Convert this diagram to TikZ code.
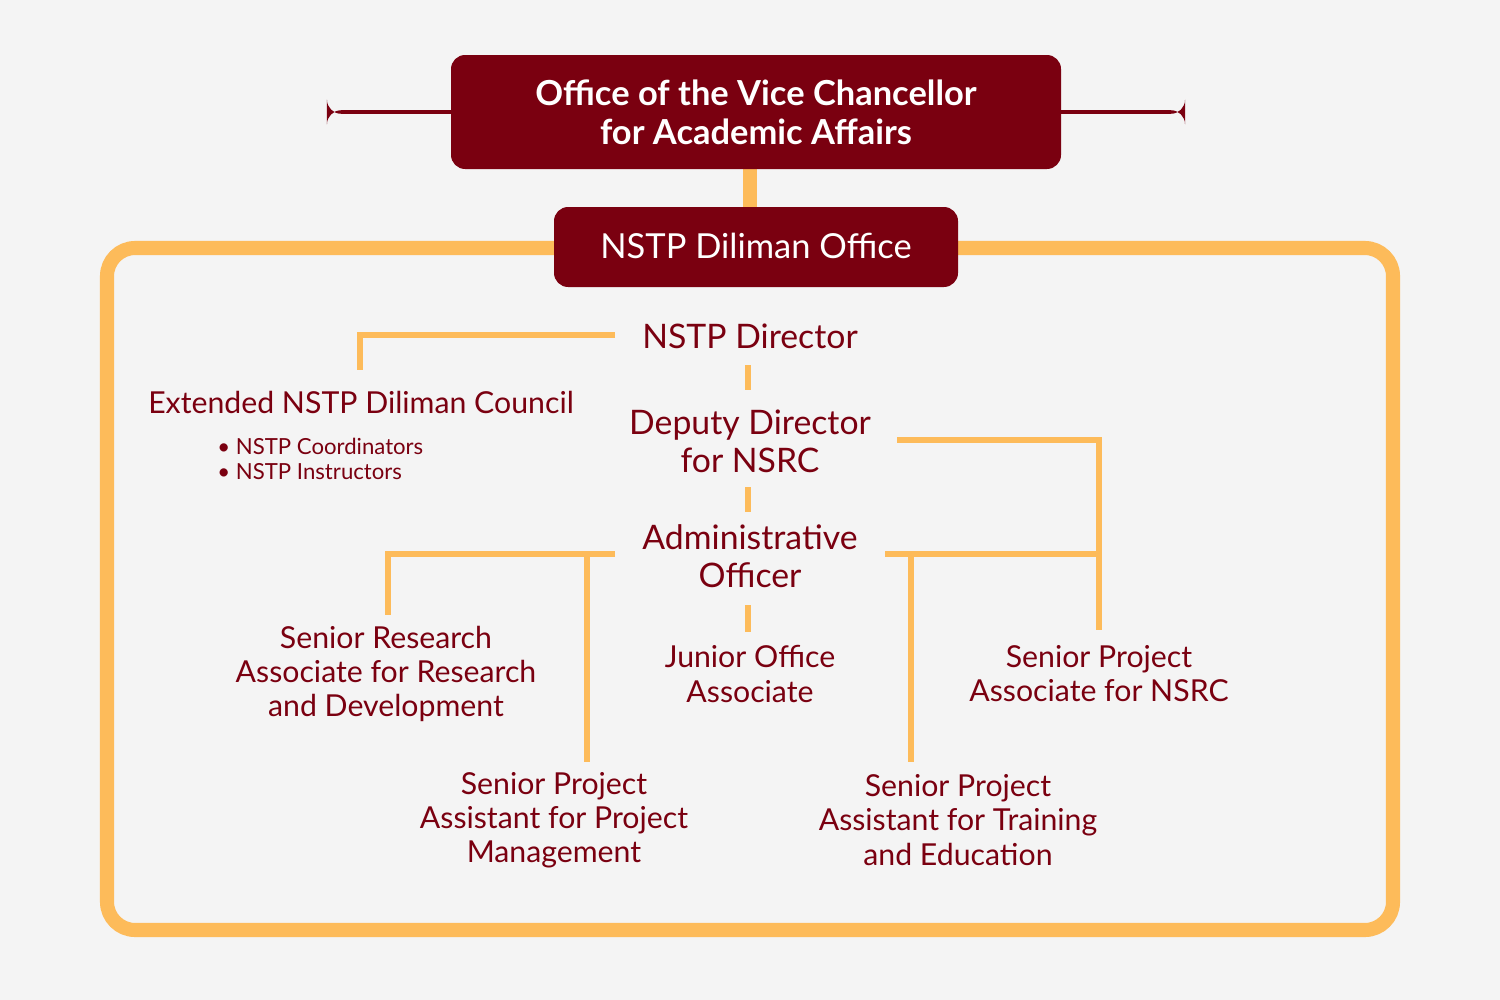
\documentclass[tikz,border=0pt]{standalone}
\usepackage{fontspec}
\setmainfont{Lato}
\definecolor{upred}{HTML}{7A0010}
\definecolor{upgold}{HTML}{FDBB5A}
\definecolor{bgray}{HTML}{F4F4F4}
\tikzset{
  headbox/.style={fill=upred, rounded corners=4pt, text=white, align=center},
  post/.style={text=upred, align=center, font=\fontsize{8.6pt}{9.7pt}\selectfont},
  rank/.style={text=upred, align=center, font=\fontsize{9.6pt}{10.8pt}\selectfont},
  link/.style={draw=upgold, line width=1.7pt},
}
\begin{document}
\begin{tikzpicture}[x=0.01cm, y=-0.01cm]
				% Background
				\fill[bgray] (0,0) rectangle (1500,1000);
				\useasboundingbox (0,0) rectangle (1500,1000);

				% Frame
				\draw[upgold, line width=4pt, rounded corners=8pt] (107,248) rectangle (1393,930);
				\draw[upgold, line width=4pt] (750,169) -- (750,207);

				% Offices
				\node[headbox, minimum width=610\pgflinewidth, inner sep=0pt] (ovcaa) at (756,112)
					{\phantom{}};
				\fill[upred, rounded corners=4pt] (451,55) rectangle (1061,169);
				\node[text=white, align=center, font=\bfseries\fontsize{9.8pt}{11pt}\selectfont] (ovcaaText) at (756,112)
					{Office of the Vice Chancellor\\for Academic Affairs};
				\fill[upred, rounded corners=4pt] (554,207) rectangle (958,287);
				\node[text=white, font=\fontsize{9.8pt}{11pt}\selectfont] (nstp) at (756,246) {NSTP Diliman Office};

				% Staff
				\node[rank] (dir) at (750,336) {NSTP Director};
				\node[rank] (dep) at (750,441) {Deputy Director\\for NSRC};
				\node[rank] (ao) at (750,556) {Administrative\\Officer};
				\node[post] (council) at (361,402) {Extended NSTP Diliman Council};
				\node[text=upred, align=left, anchor=north west, font=\fontsize{6.3pt}{7.1pt}\selectfont] (members) at (205,426)
					{\textbullet\ NSTP Coordinators\\\textbullet\ NSTP Instructors};
				\node[post] (sra) at (386,674) {Senior Research\\Associate for Research\\and Development};
				\node[post] (joa) at (750,674) {Junior Office\\Associate};
				\node[post] (spn) at (1099,674) {Senior Project\\Associate for NSRC};
				\node[post] (spm) at (554,820) {Senior Project\\Assistant for Project\\Management};
				\node[post] (spt) at (958,820) {Senior Project\\Assistant for Training\\and Education};

				% Lines
				\draw[link] (615,335) -- (360,335) -- (360,370);
				\draw[link] (748,365) -- (748,390);
				\draw[link] (748,487) -- (748,512);
				\draw[link] (748,605) -- (748,632);
				\draw[link] (897,440) -- (1099,440) -- (1099,630);
				\draw[link] (615,554) -- (388,554) -- (388,615);
				\draw[link] (587,554) -- (587,762);
				\draw[link] (885,554) -- (1099,554);
				\draw[link] (911,554) -- (911,762);
\end{tikzpicture}
\end{document}
